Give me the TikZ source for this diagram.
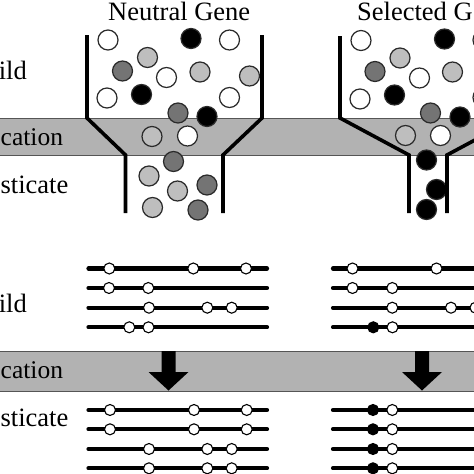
\documentclass[tikz,border=0pt]{standalone}
\usepackage{fontspec}
\setmainfont{Liberation Serif}
\definecolor{bandgray}{HTML}{B2B2B2}
\definecolor{bandedge}{HTML}{555555}
\definecolor{lightball}{HTML}{BEBEBE}
\definecolor{darkball}{HTML}{747474}
\definecolor{balledge}{HTML}{2A2A2A}
\tikzset{
  ball/.style={circle, draw=balledge, line width=1.2pt, minimum size=20pt, inner sep=0pt},
  wb/.style={ball, fill=white},
  lb/.style={ball, fill=lightball},
  db/.style={ball, fill=darkball},
  bb/.style={ball, fill=black},
  wall/.style={line width=3.6pt, line join=miter},
  chrom/.style={line width=4.2pt, line cap=round},
  mw/.style={circle, draw=black, fill=white, line width=1.1pt, minimum size=11pt, inner sep=0pt},
  mb/.style={mw, fill=black},
  lab/.style={font=\fontsize{26.5}{30}\selectfont, inner sep=0pt},
  bandstyle/.style={fill=bandgray},
  bandline/.style={draw=bandedge, line width=0.8pt},
  bigarrow/.style={fill=black}
}
\begin{document}
\begin{tikzpicture}[x=1pt,y=-1pt]
\useasboundingbox (0,0) rectangle (474,474);
\clip (0,0) rectangle (474,474);
\fill[white] (0,0) rectangle (474,474);

% bands
\fill[bandstyle] (0,118) rectangle (474,155.5);
\draw[bandline] (0,118) -- (474,118) (0,155.5) -- (474,155.5);
\fill[bandstyle] (0,351) rectangle (474,391);
\draw[bandline] (0,351) -- (474,351) (0,391) -- (474,391);

% labels
\node[lab, anchor=base west] (t1) at (108,20) {Neutral Gene};
\node[lab, anchor=base west] (t2) at (357,20) {Selected G};
\node[lab, anchor=base east] (l1) at (27,79) {ild};
\node[lab, anchor=base west, font=\fontsize{25.5}{30}\selectfont] (l2) at (0.5,145) {cation};
\node[lab, anchor=base east] (l3) at (68.5,193) {sticate};
\node[lab, anchor=base east] (l4) at (27,312) {ild};
\node[lab, anchor=base west, font=\fontsize{25.5}{30}\selectfont] (l5) at (0.5,378.5) {cation};
\node[lab, anchor=base east] (l6) at (68.5,426.5) {sticate};

% left funnel balls
\node[wb] (a1) at (108,40) {};
\node[bb] (a2) at (191,38.5) {};
\node[wb] (a3) at (229.5,40) {};
\node[lb] (a4) at (147.5,57.5) {};
\node[db] (a5) at (122.5,71) {};
\node[wb] (a6) at (166.5,77.5) {};
\node[lb] (a7) at (200,72) {};
\node[lb] (a8) at (249.5,76) {};
\node[wb] (a9) at (107,98) {};
\node[bb] (a10) at (141.5,94.5) {};
\node[wb] (a11) at (229.5,97.5) {};
\node[db] (a12) at (178,113) {};
\node[bb] (a13) at (207,116.5) {};
\node[lb] (a14) at (152,136.5) {};
\node[wb] (a15) at (187.5,136) {};
\node[db] (a16) at (173.5,161.5) {};
\node[lb] (a17) at (149,176) {};
\node[lb] (a18) at (177.5,191) {};
\node[db] (a19) at (207,185) {};
\node[lb] (a20) at (152.5,207.5) {};
\node[db] (a21) at (198,210) {};

% right funnel balls
\node[wb] (b1) at (361,40.5) {};
\node[bb] (b2) at (444.5,39) {};
\node[wb] (b3) at (483,40) {};
\node[lb] (b4) at (400,58) {};
\node[db] (b5) at (375,71.5) {};
\node[wb] (b6) at (419.5,78) {};
\node[lb] (b7) at (452.5,72) {};
\node[wb] (b8) at (360,99) {};
\node[bb] (b9) at (394.5,95) {};
\node[wb] (b10) at (483,97.5) {};
\node[db] (b11) at (430.5,113) {};
\node[bb] (b12) at (460,117) {};
\node[lb] (b13) at (405.5,135.5) {};
\node[wb] (b14) at (440.5,135.5) {};
\node[bb] (b15) at (426.5,160) {};
\node[bb] (b16) at (436.5,189.5) {};
\node[bb] (b17) at (426.5,209.5) {};

% funnel walls
\coordinate (p1) at (87,35);  \coordinate (p2) at (87,118);
\coordinate (p3) at (125.5,155); \coordinate (p4) at (125.5,213);
\coordinate (q1) at (262,35);  \coordinate (q2) at (262,118);
\coordinate (q3) at (223,155); \coordinate (q4) at (223,213);
\draw[wall] (p1) -- (p2) -- (p3) -- (p4);
\draw[wall] (q1) -- (q2) -- (q3) -- (q4);
\coordinate (r1) at (340,36);  \coordinate (r2) at (340,118);
\coordinate (r3) at (409,155); \coordinate (r4) at (409,213);
\coordinate (s1) at (516,36);  \coordinate (s2) at (516,118);
\coordinate (s3) at (447,155); \coordinate (s4) at (447,213);
\draw[wall] (r1) -- (r2) -- (r3) -- (r4);
\draw[wall] (s1) -- (s2) -- (s3) -- (s4);

% arrows
\fill[bigarrow] (161.5,351) -- (175.5,351) -- (175.5,372) -- (188.5,372) -- (168.5,390.5) -- (148.5,372) -- (161.5,372) -- cycle;
\fill[bigarrow] (415,351) -- (429,351) -- (429,372) -- (442,372) -- (422,390.5) -- (402,372) -- (415,372) -- cycle;

% chromosome lines
\foreach \y [count=\i] in {268.5,288,307.7,327.3,410,429.3,449,468.3} {
  \coordinate (ls\i) at (88.5,\y);
  \coordinate (le\i) at (267,\y);
  \coordinate (rs\i) at (333,\y);
  \coordinate (re\i) at (480,\y);
  \draw[chrom] (ls\i) -- (le\i);
  \draw[chrom] (rs\i) -- (re\i);
}

% left markers (wild)
\node[mw] (m11) at (109.3,268.5) {};
\node[mw] (m12) at (193.3,268.5) {};
\node[mw] (m13) at (246,268.5) {};
\node[mw] (m21) at (109,288) {};
\node[mw] (m22) at (148.3,288) {};
\node[mw] (m31) at (149,307.7) {};
\node[mw] (m32) at (207.3,307.7) {};
\node[mw] (m33) at (231.7,307.7) {};
\node[mw] (m41) at (129.3,327.3) {};
\node[mw] (m42) at (148.5,327.3) {};
% left markers (domesticate)
\node[mw] (m51) at (110,410) {};
\node[mw] (m52) at (194,410) {};
\node[mw] (m53) at (246.7,410) {};
\node[mw] (m61) at (110,429.3) {};
\node[mw] (m62) at (194,429.3) {};
\node[mw] (m63) at (246.7,429.3) {};
\node[mw] (m71) at (149,449) {};
\node[mw] (m72) at (207.3,449) {};
\node[mw] (m73) at (231.7,449) {};
\node[mw] (m81) at (149,468.3) {};
\node[mw] (m82) at (207.3,468.3) {};
\node[mw] (m83) at (231.7,468.3) {};

% right markers (wild)
\node[mw] (n11) at (352.5,268.5) {};
\node[mw] (n12) at (436.5,268.5) {};
\node[mw] (n21) at (352.5,288) {};
\node[mw] (n22) at (392.3,288) {};
\node[mw] (n31) at (392.3,307.7) {};
\node[mw] (n32) at (451,307.7) {};
\node[mw] (n33) at (475.5,307.7) {};
\node[mb] (n41) at (373.3,327.3) {};
\node[mw] (n42) at (392.5,327.3) {};
% right markers (domesticate)
\foreach \y [count=\i from 5] in {410,429.3,449,468.3} {
  \node[mb] (n\i1) at (373,\y) {};
  \node[mw] (n\i2) at (392.3,\y) {};
}
\end{tikzpicture}
\end{document}
